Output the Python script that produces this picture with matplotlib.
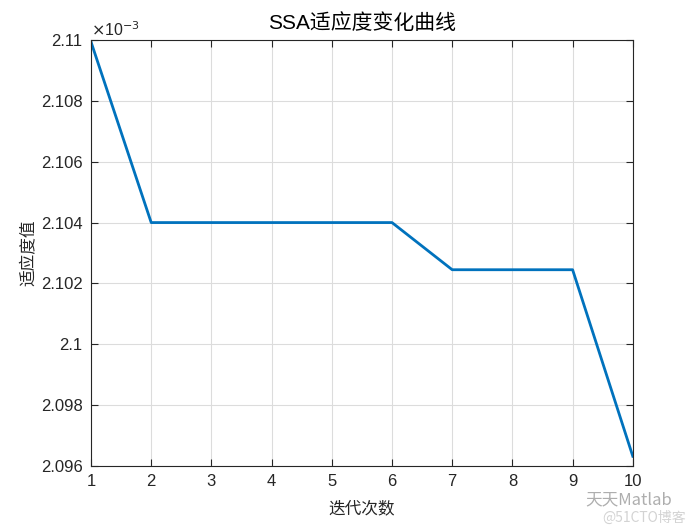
import matplotlib
matplotlib.use("Agg")
from matplotlib import pyplot as plt
from matplotlib.ticker import FuncFormatter

plt.rcParams['font.family'] = ['Liberation Sans', 'Noto Sans CJK SC', 'DejaVu Sans']

# 适应度数据
iters = [1, 2, 3, 4, 5, 6, 7, 8, 9, 10]
fitness = [2.10994e-3, 2.10400e-3, 2.10400e-3, 2.10400e-3, 2.10400e-3,
           2.10400e-3, 2.10245e-3, 2.10245e-3, 2.10245e-3, 2.09632e-3]
yticks = [2.096e-3, 2.098e-3, 2.100e-3, 2.102e-3, 2.104e-3, 2.106e-3, 2.108e-3, 2.110e-3]

fig = plt.figure(figsize=(7, 5.25), dpi=100)
ax = fig.add_axes([0.13, 0.1124, 0.774, 0.8114])
ax.plot(iters, fitness, color='#0072BD', linewidth=2)

ax.set_xlim(1, 10)
ax.set_ylim(2.096e-3, 2.110e-3)
ax.set_xticks(iters)
ax.set_yticks(yticks)
ax.yaxis.set_major_formatter(FuncFormatter(lambda v, p: '%g' % round(v * 1e3, 4)))
ax.grid(True, color='#dcdcdc', linewidth=0.8)
ax.tick_params(direction='in', top=True, right=True, labelsize=12, colors='#262626', length=5)
ax.tick_params(axis='y', pad=6)
ax.tick_params(axis='x', pad=6)
for s in ax.spines.values():
    s.set_color('#262626')
    s.set_linewidth(0.8)

ax.text(0, 1.003, r'$\times$10$^{-3}$', transform=ax.transAxes, fontsize=11.5,
        color='#262626', ha='left', va='bottom')
ax.set_title('SSA适应度变化曲线', fontsize=15, color='#000000', pad=8)
ax.set_xlabel('迭代次数', fontsize=12, color='#262626',
              family=['Noto Sans CJK SC'], labelpad=8)
ax.set_ylabel('适应度值', fontsize=12, color='#262626',
              family=['Noto Sans CJK SC'], labelpad=2)

# 水印
fig.text(0.836, 0.048, '天天Matlab', fontsize=12, color='#9a9a9a', alpha=0.8,
         family=['Noto Sans CJK SC'], ha='left', va='center')
fig.text(0.86, 0.013, '@51CTO博客', fontsize=10, color='#c8c8c8', alpha=0.8,
         family=['Noto Sans CJK SC'], ha='left', va='center')

fig.savefig('out.png', dpi=100)
